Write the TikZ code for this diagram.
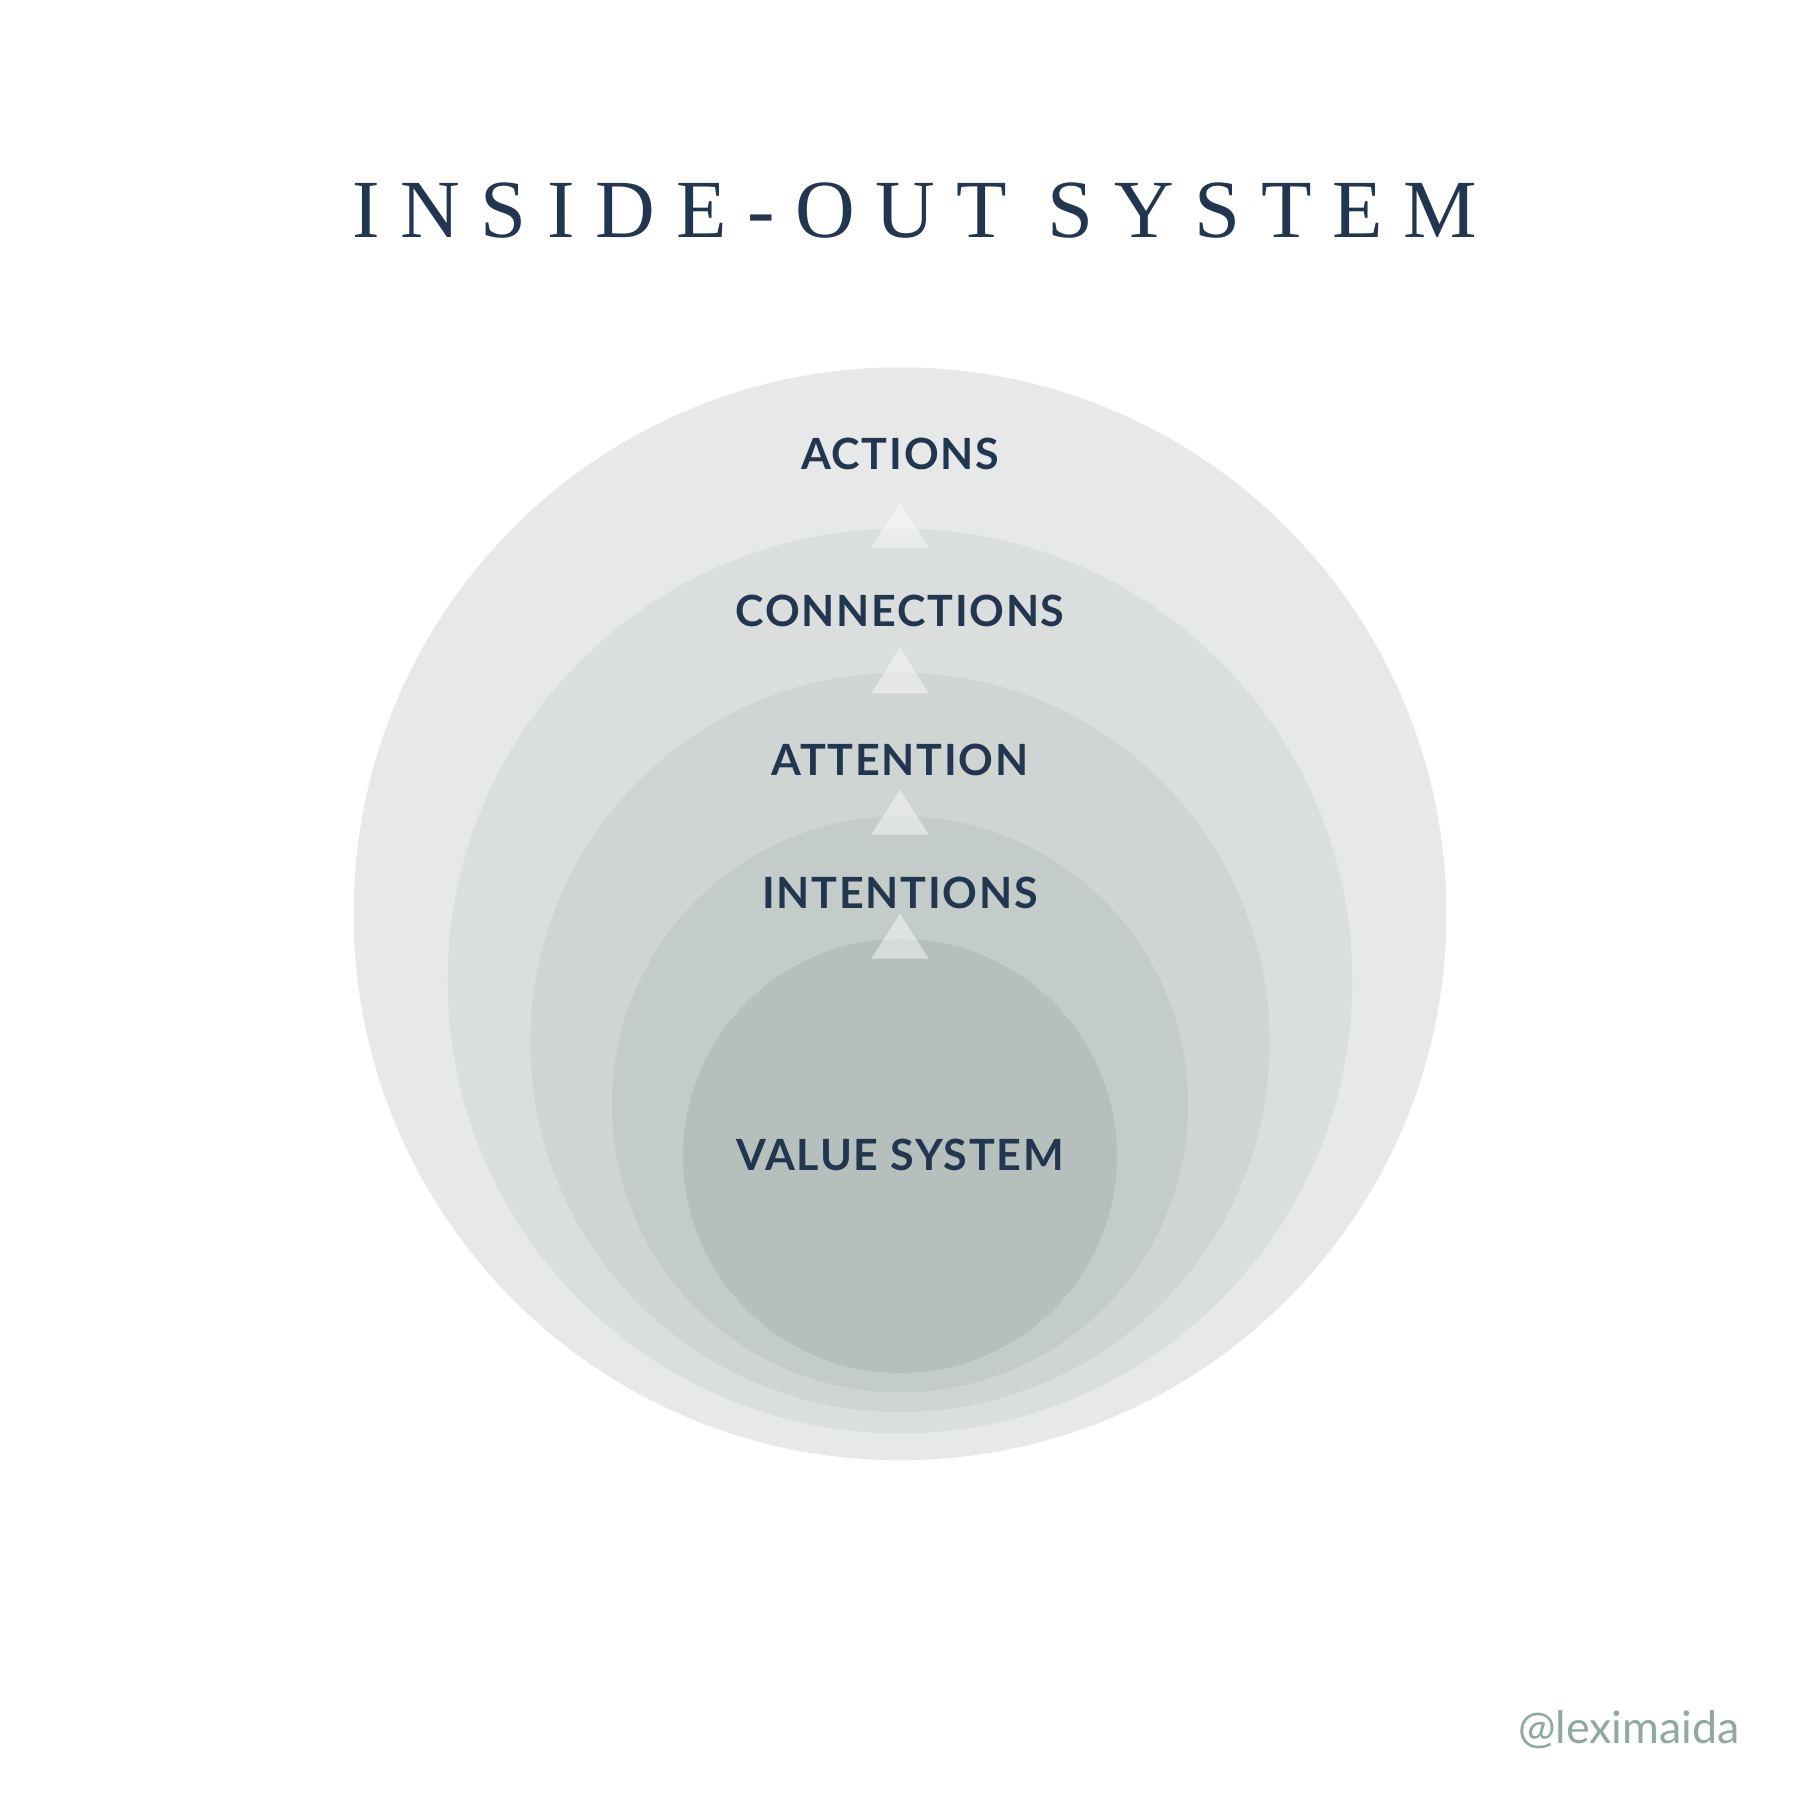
\documentclass[tikz,border=0pt]{standalone}
\usepackage{fontspec}
\setmainfont{Lato}
\newfontfamily\titlefont[LetterSpace=25]{Liberation Serif}
\newfontfamily\labfont[LetterSpace=4]{Lato}
\definecolor{navy}{HTML}{22374F}
\definecolor{cA}{HTML}{E7E9E9}
\definecolor{cB}{HTML}{DADEDD}
\definecolor{cC}{HTML}{CFD5D3}
\definecolor{cD}{HTML}{C3CCC9}
\definecolor{cE}{HTML}{B5C0BC}
\definecolor{sage}{HTML}{8FAA9C}
\begin{document}
\begin{tikzpicture}[x=1pt,y=-1pt,
  lab/.style={text=navy,font=\labfont\bfseries\fontsize{37.5}{42}\selectfont,anchor=center},
  tri/.style={fill=white,fill opacity=0.45,draw=none}]
\useasboundingbox (0,0) rectangle (1568,1568);
\fill[white] (0,0) rectangle (1568,1568);
\fill[cA] (784,796) circle (476);
\fill[cB] (784,854.5) circle (394);
\fill[cC] (784,908) circle (322);
\fill[cD] (784,962) circle (251);
\fill[cE] (784,1007) circle (189);
\foreach \t/\b in {438/477,564/604,688/727,796/835}
  \fill[tri] (784,\t) -- (809,\b) -- (759,\b) -- cycle;
\node[lab] (actions) at (784,395) {ACTIONS};
\node[lab] (connections) at (784,532) {CONNECTIONS};
\node[lab] (attention) at (784,662) {ATTENTION};
\node[lab] (intentions) at (784,778) {INTENTIONS};
\node[lab] (value) at (784,1006) {VALUE SYSTEM};
\node[text=navy,font=\titlefont\fontsize{72}{80}\selectfont] (title) at (797,183) {INSIDE-OUT SYSTEM};
\node[text=sage,font=\fontsize{39}{44}\selectfont,anchor=east] (handle) at (1519,1507) {@leximaida};
\end{tikzpicture}
\end{document}
